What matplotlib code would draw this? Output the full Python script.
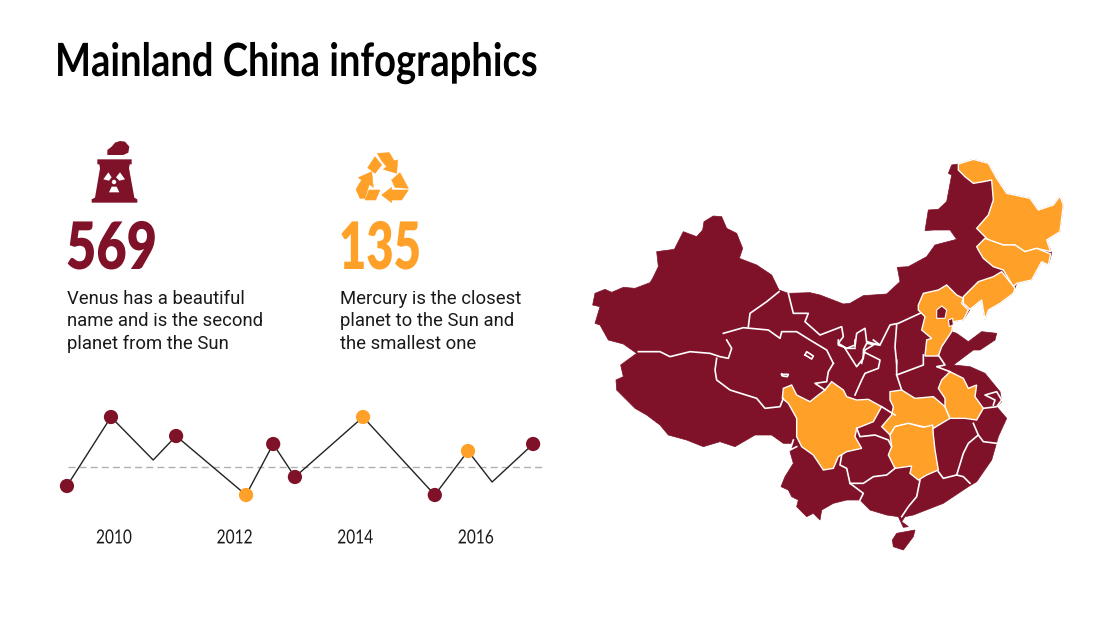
import matplotlib
matplotlib.use("Agg")
import matplotlib.pyplot as plt
from matplotlib.patches import Polygon, Circle
from matplotlib.patheffects import AbstractPathEffect
from matplotlib.transforms import Affine2D

DARK = "#7F1229"
ORANGE = "#FFA028"
HEAD = ["Lato", "Noto Sans", "DejaVu Sans"]
BODY = ["Roboto", "DejaVu Sans"]

title = "Mainland China infographics"
stat_values = ["569", "135"]
stat_texts = ["Venus has a beautiful\nname and is the second\nplanet from the Sun",
              "Mercury is the closest\nplanet to the Sun and\nthe smallest one"]

years = [2009.22, 2009.95, 2010.65, 2011.03, 2012.19, 2012.64, 2013.0, 2014.13, 2015.32, 2015.87, 2016.27, 2016.95]
values = [31, 100, 57, 81, 22, 73, 40, 100, 22, 66, 35, 73]
has_dot = [1, 1, 0, 1, 1, 1, 1, 1, 1, 1, 0, 1]
highlight = [0, 0, 0, 0, 1, 0, 0, 1, 0, 1, 0, 0]
tick_years = [2010, 2012, 2014, 2016]
mean_value = 50
mean_span = [2009.24, 2017.15]

# Map shapes. N = northern crop units, S = southern crop units
outline_n = [(38,465),(45,430),(75,418),(95,427),(130,412),(165,415),(210,398),(218,385),(235,350),(230,305),(283,298),
 (310,245),(350,260),(368,240),(372,215),(400,198),(425,200),(440,235),(470,250),(488,295),(478,325),(530,345),(575,375),
 (597,420),(625,430),(690,428),(720,435),(790,462),(810,460),(850,437),(920,432),(960,395),(952,352),(985,350),(1040,320),
 (1065,285),(1130,268),(1110,240),(1060,240),(1035,242),(1045,180),(1075,178),(1100,155),(1115,75),(1105,70),(1115,45),
 (1135,42),(1180,28),(1225,40),(1250,85),(1280,130),(1350,145),(1375,180),(1420,165),(1440,138),(1450,165),(1440,245),
 (1400,270),(1415,310),(1405,345),(1385,335),(1355,390),(1310,400),(1300,430),(1260,460),(1225,480),(1215,510),(1205,450),
 (1170,478),(1150,510),(1120,515),(1115,545),(1130,550),(1165,575),(1205,545),(1250,550),(1245,570),(1200,600)]
outline_s = [(1180,30),(1120,75),(1170,80),(1215,100),(1260,155),(1265,185),(1250,200),(1280,235),(1255,290),(1235,360),
 (1190,425),(1165,440),(1090,490),(1000,525),(975,530),(965,545),(985,560),(970,562),(955,530),(920,525),(870,510),(840,480),
 (800,480),(760,490),(725,510),(720,540),(700,520),(680,530),(650,500),(655,480),(635,470),(625,450),(603,440),(615,410),
 (640,370),(630,335),(640,310),(610,310),(575,285),(525,285),(465,320),(420,305),(370,320),(320,300),(265,285),(240,255),
 (200,225),(165,205),(110,150),(108,120),(130,110),(122,75),(170,40),(130,12),(85,0)]
outline_n_tail = [(60,525),(45,520),(60,470)]
hainan_s = [(937,600),(950,580),(1005,570),(1000,590),(970,630),(940,620)]

heilongjiang_n = [(1135,42),(1180,28),(1225,40),(1250,85),(1280,130),(1350,145),(1375,180),(1420,165),(1440,138),(1450,165),
 (1440,245),(1400,270),(1412,305),(1370,295),(1335,305),(1305,285),(1270,285),(1225,270),(1190,235),(1225,195),(1240,150),
 (1235,90),(1210,95),(1180,100),(1155,80),(1135,60)]
jilin_n = [(1190,290),(1215,265),(1270,285),(1305,285),(1335,305),(1370,295),(1412,312),(1405,345),(1385,335),(1355,390),
 (1310,400),(1300,410),(1270,360),(1240,350),(1210,325),(1195,300)]
liaoning_n = [(1265,365),(1305,415),(1300,430),(1260,460),(1225,480),(1215,510),(1205,450),(1170,478),(1150,460),(1150,440),
 (1195,395),(1240,380)]
hebei_n = [(1015,465),(1030,430),(1075,420),(1100,405),(1130,435),(1150,445),(1145,460),(1165,480),(1150,510),(1120,515),
 (1115,545),(1085,590),(1075,618),(1035,618),(1040,570),(1055,565),(1025,540),(1035,500),(1015,480)]
beijing_n = [(1070,480),(1085,468),(1100,480),(1095,505),(1070,505)]
tianjin_n = [(1105,510),(1118,505),(1120,525),(1108,530)]
sichuan_s = [(610,145),(635,135),(650,165),(690,185),(715,165),(735,150),(755,125),(790,150),(800,170),(830,180),(865,178),
 (905,200),(880,245),(830,265),(825,290),(845,325),(800,335),(775,350),(760,385),(730,390),(700,345),(665,320),(650,290),
 (650,235),(625,190),(607,175)]
hubei_s = [(930,155),(965,150),(1005,175),(1060,170),(1095,200),(1110,235),(1060,265),(1030,260),(985,250),(945,260),(930,285),
 (905,260),(935,225),(940,200),(930,180)]
hunan_s = [(945,260),(985,250),(1030,262),(1058,255),(1060,285),(1065,330),(1075,390),(1040,405),(1015,420),(990,400),(995,378),
 (945,385),(925,345),(935,320),(930,285)]
anhui_s = [(1110,95),(1150,115),(1165,145),(1190,135),(1185,170),(1210,205),(1190,240),(1155,235),(1110,235),(1095,200),(1095,175),
 (1075,145),(1085,120)]

borders_n = [
 [(597,425),(560,455),(510,490),(505,530)],
 [(430,550),(490,533),(565,540),(600,565),(605,545),(650,545),(690,570),(740,600),(760,640)],
 [(625,430),(640,490),(685,490),(675,515),(720,555),(785,530),(790,560),(775,580),(800,595),(825,595)],
 [(825,590),(830,550),(855,535),(860,575),(880,585),(855,600),(845,640)],
 [(860,575),(900,585),(930,525),(955,520),(1020,490)],
 [(950,525),(945,590),(950,640)],
]
borders_s = [
 [(440,0),(455,25),(445,55),(420,50),(390,40),(330,35),(270,50),(240,35),(175,35)],
 [(760,70),(745,95),(740,125),(705,130),(735,150)],
 [(775,0),(775,15),(800,25),(825,15),(825,0)],
 [(795,25),(830,80),(850,55),(850,35),(900,60),(895,85),(855,100),(845,120),(825,165)],
 [(850,30),(860,10),(900,15),(880,0)],
 [(950,60),(950,105),(1030,75),(1030,45)],
 [(1075,45),(1095,75),(1070,80),(1110,95)],
 [(950,105),(965,150)],
 [(905,200),(945,225)],
 [(830,265),(840,290),(885,285),(925,300),(935,320)],
 [(785,345),(780,375),(800,385),(810,430),(850,460),(840,480)],
 [(810,430),(850,430),(880,410),(920,405),(945,385)],
 [(1020,420),(1010,470),(985,500),(965,530)],
 [(1075,395),(1090,415),(1130,405),(1150,410),(1170,430)],
 [(1130,405),(1150,340),(1165,310),(1195,285),(1180,250)],
 [(1195,285),(1210,305),(1250,310)],
 [(1210,205),(1250,200),(1265,180),(1250,155),(1215,165),(1245,180),(1240,195)],
 [(410,55),(405,90),(410,120),(450,150),(530,175),(555,205),(600,200),(610,175)],
 [(640,300),(630,330),(650,320)],
 [(675,45),(680,35),(700,48),(695,57),(675,45)],
 [(605,103),(625,103),(622,110),(607,108),(605,103)],
]

# Icons, traced in icon-crop units
tower = [(65,218),(65,208),(75,203),(90,115),(88,103),(82,103),(82,88),(185,88),(185,103),(179,103),(177,115),(193,203),(202,208),(202,218)]
cloud = [(112,75),(112,60),(125,50),(135,38),(150,33),(165,35),(178,50),(175,68),(160,75)]
rad_wedges = [[(100,148),(115,127),(125,142),(117,152)], [(150,127),(165,148),(148,152),(138,142)],
              [(117,187),(125,170),(140,170),(148,187)]]
recycle = [[(922,70),(958,68),(972,92),(983,90),(980,130),(940,118),(950,110),(935,92)],
           [(893,113),(915,80),(935,105),(915,130),(905,122)],
           [(905,125),(910,172),(898,163),(885,205),(870,205),(858,178),(875,150),(865,143)],
           [(897,180),(930,180),(917,210),(885,210)],
           [(935,195),(965,172),(965,180),(1015,180),(995,210),(965,210),(965,218)],
           [(990,128),(1015,175),(975,172),(965,150)]]

def north(pts):
    return [(580 + x / 3, 150 + y / 3) for x, y in pts]
def south(pts):
    return [(580 + x / 3, 340 + y / 3) for x, y in pts]
def icon(pts):
    return [(70 + x / 3, 130 + y / 3) for x, y in pts]


class Narrowed(AbstractPathEffect):
    """Draw a text horizontally narrowed around its start, optionally moved."""
    def __init__(self, factor, shift=0.0):
        super().__init__()
        self.factor, self.shift = factor, shift
    def draw_path(self, renderer, gc, tpath, affine, rgbFace=None):
        t = Affine2D().scale(self.factor, 1) + affine + Affine2D().translate(self.shift, 0)
        renderer.draw_path(gc, tpath, t, rgbFace)


W, H = 1120, 630
fig = plt.figure(figsize=(W / 100, H / 100), dpi=100, facecolor="white")
rend = fig.canvas.get_renderer()
bg = fig.add_axes([0, 0, 1, 1])
bg.set_xlim(0, W)
bg.set_ylim(H, 0)
bg.axis("off")


def narrow_to(txt, width, centered=False):
    w = txt.get_window_extent(rend).width
    f = width / w
    txt.set_path_effects([Narrowed(f, (1 - f) * w / 2 if centered else 0.0)])


t = bg.text(55, 76, title, family=HEAD, weight="bold", fontsize=33, color="black", va="baseline", ha="left")
narrow_to(t, 483)

for p in (tower, cloud):
    bg.add_patch(Polygon(icon(p), closed=True, fc=DARK, ec="none"))
for p in rad_wedges:
    bg.add_patch(Polygon(icon(p), closed=True, fc="white", ec="none"))
cx, cy = icon([(132, 156)])[0]
bg.add_patch(Circle((cx, cy), 2.2, fc="white", ec="none"))
for p in recycle:
    bg.add_patch(Polygon(icon(p), closed=True, fc=ORANGE, ec=ORANGE, lw=0.4))

t = bg.text(66, 269, stat_values[0], family=HEAD, weight="heavy", fontsize=47, color=DARK, va="baseline", ha="left")
narrow_to(t, 91)
t = bg.text(339, 269, stat_values[1], family=HEAD, weight="heavy", fontsize=47, color=ORANGE, va="baseline", ha="left")
narrow_to(t, 82)
bg.text(67, 321.5, stat_texts[0], family=BODY, fontsize=13.3, color="#1a1a1a", va="center", ha="left", linespacing=1.31)
bg.text(340, 321.5, stat_texts[1], family=BODY, fontsize=13.3, color="#1a1a1a", va="center", ha="left", linespacing=1.31)

# map
full = north(outline_n) + south(outline_s) + north(outline_n_tail)
bg.add_patch(Polygon(full, closed=True, fc=DARK, ec=DARK, lw=0.5))
bg.add_patch(Polygon(south(hainan_s), closed=True, fc=DARK, ec=DARK, lw=0.5))
for seg in borders_n:
    bg.plot(*zip(*north(seg)), color="white", lw=1.2, solid_joinstyle="round")
for seg in borders_s:
    bg.plot(*zip(*south(seg)), color="white", lw=1.2, solid_joinstyle="round")
for p in (heilongjiang_n, jilin_n, liaoning_n, hebei_n):
    bg.add_patch(Polygon(north(p), closed=True, fc=ORANGE, ec="white", lw=1.0))
for p in (sichuan_s, hubei_s, hunan_s, anhui_s):
    bg.add_patch(Polygon(south(p), closed=True, fc=ORANGE, ec="white", lw=1.0))
for p in (beijing_n, tianjin_n):
    bg.add_patch(Polygon(north(p), closed=True, fc=DARK, ec="white", lw=0.8))

# line chart
ax = fig.add_axes([40 / W, 1 - 510 / H, 520 / W, 110 / H])
ax.patch.set_alpha(0)
ax.set_xlim(2008.773, 2017.396)
ax.set_ylim(7, 117)
for s in ax.spines.values():
    s.set_visible(False)
ax.set_yticks([])
ax.set_xticks(tick_years)
ax.set_xticklabels([str(y) for y in tick_years], family=HEAD, fontsize=14, color="#1a1a1a")
ax.tick_params(axis="x", length=0, pad=14)
fig.canvas.draw()
for lab in ax.get_xticklabels():
    narrow_to(lab, 36, centered=True)
ax.plot(mean_span, [mean_value, mean_value], color="#b0b0b0", lw=1.0, dashes=(5, 3), zorder=1)
ax.plot(years, values, color="#222222", lw=1.0, zorder=2)
dx = [x for x, d in zip(years, has_dot) if d]
dy = [v for v, d in zip(values, has_dot) if d]
dc = [ORANGE if h else DARK for h, d in zip(highlight, has_dot) if d]
ax.scatter(dx, dy, s=105, c=dc, zorder=3, clip_on=False, linewidths=0)

fig.savefig("out.png", dpi=100)
